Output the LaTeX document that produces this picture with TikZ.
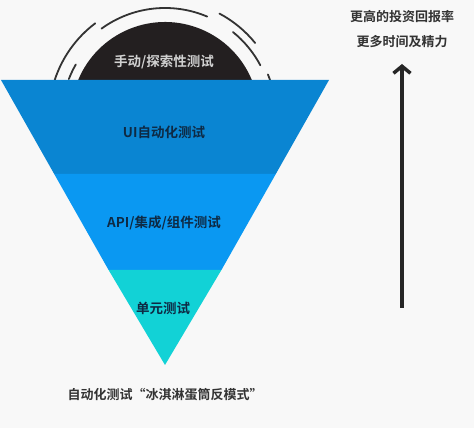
\documentclass[tikz,border=0pt]{standalone}
\usepackage{fontspec}
\setmainfont{Noto Sans CJK SC}[BoldFont={Noto Sans CJK SC Bold}]
\usetikzlibrary{arrows.meta}
\definecolor{bgcol}{HTML}{F8F8F8}
\definecolor{domecol}{HTML}{231F20}
\definecolor{uicol}{HTML}{0A85D2}
\definecolor{apicol}{HTML}{0A98F2}
\definecolor{unitcol}{HTML}{12D2D6}
\definecolor{labelcol}{HTML}{0E2A44}
\begin{document}
\begin{tikzpicture}[x=1pt,y=1pt]
		\tikzset{layerlabel/.style={font=\fontsize{13.5}{15}\selectfont\bfseries, text=labelcol, inner sep=0pt},
			sidelabel/.style={font=\fontsize{13}{15}\selectfont\bfseries, text=black!80, inner sep=0pt},
			ringarc/.style={draw=black!80, line width=1.8pt, line cap=round}}
		
		\fill[bgcol] (0,0) rectangle (474,428);
		\useasboundingbox (0,0) rectangle (474,428);
		
		% dome and rings
		\coordinate (domec) at (165,312);
		\fill[domecol] ([shift={(22.5:94)}]domec) arc (22.5:157.5:94) -- cycle;
		\draw[ringarc] ([shift={(127:116)}]domec) arc (127:162:116);
		\draw[ringarc] ([shift={(39:116)}]domec) arc (39:62:116);
		\draw[ringarc] ([shift={(67:108)}]domec) arc (67:126:108);
		\draw[ringarc] ([shift={(28:108)}]domec) arc (28:51:108);
		\draw[ringarc] ([shift={(18:111)}]domec) arc (18:22:111);
		\draw[ringarc] ([shift={(150:103)}]domec) arc (150:159:103);
		\node[font=\fontsize{13.5}{15}\selectfont\bfseries, text=black!18, inner sep=0pt] (manual) at (164,366) {手动/探索性测试};
		
		% inverted pyramid
		\fill[uicol] (1,348) -- (329,348) -- (275.8,254) -- (54.2,254) -- cycle;
		\fill[apicol] (54.2,254) -- (275.8,254) -- (221.4,158) -- (108.6,158) -- cycle;
		\fill[unitcol] (108.6,158) -- (221.4,158) -- (165,63) -- cycle;
		\node[layerlabel] (ui) at (164,296) {UI自动化测试};
		\node[layerlabel] (api) at (164,205) {API/集成/组件测试};
		\node[layerlabel] (unit) at (163,120) {单元测试};
		
		% arrow on the right
		\node[sidelabel] (roi) at (402,411) {更高的投资回报率};
		\node[sidelabel] (effort) at (402,386) {更多时间及精力};
		\coordinate (arrbot) at (402,120);
		\coordinate (arrtop) at (402,364);
		\draw[black!85, line width=3.5pt, -{Straight Barb[length=7pt,width=17pt]}] (arrbot) -- (arrtop);
		
		\node[sidelabel] (caption) at (165,33) {自动化测试“冰淇淋蛋筒反模式”};
		
		\end{tikzpicture}
\end{document}
